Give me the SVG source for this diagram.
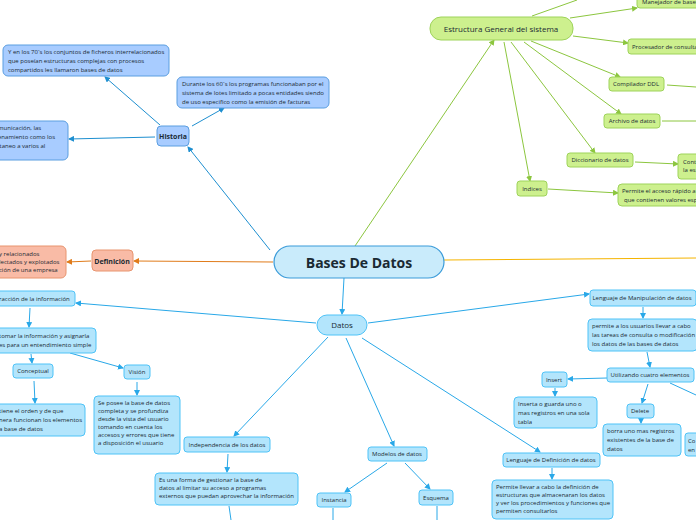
<svg xmlns="http://www.w3.org/2000/svg" width="696" height="520" viewBox="0 0 696 520">
<defs>
<marker id="ab" markerWidth="6" markerHeight="6" refX="5" refY="3" orient="auto" markerUnits="userSpaceOnUse"><path d="M0,0L6,3L0,6z" fill="#1e8fd0"/></marker>
<marker id="ac" markerWidth="6" markerHeight="6" refX="5" refY="3" orient="auto" markerUnits="userSpaceOnUse"><path d="M0,0L6,3L0,6z" fill="#29a8e8"/></marker>
<marker id="ag" markerWidth="6" markerHeight="6" refX="5" refY="3" orient="auto" markerUnits="userSpaceOnUse"><path d="M0,0L6,3L0,6z" fill="#8cc63f"/></marker>
<marker id="ao" markerWidth="6" markerHeight="6" refX="5" refY="3" orient="auto" markerUnits="userSpaceOnUse"><path d="M0,0L6,3L0,6z" fill="#e07b1a"/></marker>
</defs>
<style>
text{font-family:"Open Sans","DejaVu Sans",sans-serif;font-size:6px;fill:#1a2a33}
.h rect{fill:#a8ccff;stroke:#5b9ee0;stroke-width:1}
.c rect{fill:#b3e5fc;stroke:#4fc3f7;stroke-width:1}
.g rect{fill:#cdf08e;stroke:#9ed35a;stroke-width:1}
.o rect{fill:#f9bba6;stroke:#e8946f;stroke-width:1}
.lb{stroke:#1e8fd0;stroke-width:1;fill:none;marker-end:url(#ab)}
.lc{stroke:#29a8e8;stroke-width:1;fill:none;marker-end:url(#ac)}
.lg{stroke:#8cc63f;stroke-width:1;fill:none;marker-end:url(#ag)}
.lo{stroke:#e07b1a;stroke-width:1;fill:none;marker-end:url(#ao)}
.n{stroke:#29a8e8;stroke-width:1;fill:none}
.ng{stroke:#8cc63f;stroke-width:1;fill:none}
</style>
<g id="connectors">
<line class="lb" x1="270" y1="250" x2="188" y2="147"/>
<line class="lb" x1="192" y1="126" x2="224" y2="108"/>
<line class="lb" x1="160" y1="125" x2="105" y2="77"/>
<line class="lb" x1="155" y1="137" x2="69" y2="139"/>
<line class="lo" x1="273" y1="262" x2="134" y2="261"/>
<line class="lo" x1="91" y1="261" x2="67" y2="262"/>
<line x1="444" y1="260" x2="696" y2="258" stroke="#f5b400" stroke-width="1.2"/>
<line class="lg" x1="355" y1="246" x2="494" y2="40"/>
<line class="ng" x1="532" y1="16" x2="577" y2="0"/>
<line class="lg" x1="570" y1="18" x2="637" y2="8"/>
<line class="lg" x1="573" y1="36" x2="628" y2="43"/>
<line class="lg" x1="531" y1="41" x2="620" y2="77"/>
<line class="ng" x1="667" y1="85" x2="696" y2="87"/>
<line class="lg" x1="524" y1="42" x2="621" y2="114"/>
<line class="ng" x1="662" y1="121" x2="696" y2="121"/>
<line class="lg" x1="511" y1="42" x2="595" y2="153"/>
<line class="lg" x1="635" y1="162" x2="678" y2="164"/>
<line class="lg" x1="504" y1="42" x2="530" y2="181"/>
<line class="lg" x1="548" y1="189" x2="618" y2="193"/>
<line class="lc" x1="344" y1="278" x2="342" y2="314"/>
<line class="lc" x1="316" y1="323" x2="76" y2="303"/>
<line class="lc" x1="30" y1="308" x2="29" y2="327"/>
<line class="lc" x1="31" y1="354" x2="32" y2="363"/>
<line class="lc" x1="34" y1="381" x2="35" y2="403"/>
<line class="lc" x1="70" y1="353" x2="123" y2="368"/>
<line class="lc" x1="137" y1="382" x2="137" y2="395"/>
<line class="lc" x1="328" y1="337" x2="234" y2="436"/>
<line class="lc" x1="228" y1="454" x2="227" y2="472"/>
<line class="n" x1="229" y1="506" x2="231" y2="520"/>
<line class="lc" x1="346" y1="338" x2="394" y2="446"/>
<line class="lc" x1="387" y1="463" x2="345" y2="492"/>
<line class="lc" x1="405" y1="463" x2="430" y2="489"/>
<line class="n" x1="333" y1="508" x2="333" y2="520"/>
<line class="n" x1="437" y1="506" x2="437" y2="520"/>
<line class="lc" x1="362" y1="338" x2="540" y2="452"/>
<line class="lc" x1="552" y1="468" x2="552" y2="479"/>
<line class="lc" x1="368" y1="323" x2="589" y2="294"/>
<line class="lc" x1="643" y1="307" x2="643" y2="318"/>
<line class="lc" x1="647" y1="352" x2="650" y2="367"/>
<line class="lc" x1="607" y1="378" x2="568" y2="379"/>
<line class="lc" x1="555" y1="388" x2="555" y2="396"/>
<line class="lc" x1="648" y1="384" x2="642" y2="403"/>
<line class="lc" x1="641" y1="419" x2="641" y2="423"/>
<line class="n" x1="670" y1="383" x2="696" y2="395"/>
</g>
<g id="central"><rect x="274" y="246" width="170" height="32" rx="16" fill="#c9ebfb" stroke="#3a9bd9" stroke-width="1.2"/><text x="359" y="268" text-anchor="middle" style="font-size:14px;font-weight:bold">Bases De Datos</text></g>
<g id="historia" class="h"><rect x="157" y="126" width="32" height="20" rx="4"/><text x="173" y="139" text-anchor="middle" style="font-size:7px;font-weight:bold">Historia</text></g>
<g id="h60" class="h"><rect x="177" y="77" width="152" height="31" rx="5"/><text x="182" y="86">Durante los 60´s los programas funcionaban por el</text><text x="182" y="95">sistema de lotes limitado a pocas entidades siendo</text><text x="182" y="104">de uso especifico como la emisión de facturas</text></g>
<g id="h70" class="h"><rect x="3" y="45" width="166" height="31" rx="5"/><text x="8" y="54">Y en los 70´s los conjuntos de ficheros interrelacionados</text><text x="8" y="63">que poseían estructuras complejas con procesos</text><text x="8" y="72">compartidos les llamaron bases de datos</text></g>
<g id="hleft" class="h"><rect x="-10" y="121" width="78" height="39" rx="5"/><text x="-2" y="130">municación, las</text><text x="-2" y="139">enamiento como los</text><text x="-2" y="148">ltaneo a varios al</text></g>
<g id="definicion" class="o"><rect x="92" y="250" width="41" height="21" rx="4"/><text x="112" y="264" text-anchor="middle" style="font-size:7px;font-weight:bold">Definición</text></g>
<g id="defleft" class="o"><rect x="-10" y="246" width="76" height="32" rx="5"/><text x="-1" y="256">y relacionados</text><text x="-1" y="264">lectados y explotados</text><text x="-1" y="272">ción de una empresa</text></g>
<g id="estructura" class="g"><rect x="430" y="17" width="143" height="23" rx="11"/><text x="501" y="32" text-anchor="middle" style="font-size:8px">Estructura General del sistema</text></g>
<g id="manejador" class="g"><rect x="637" y="-5" width="70" height="13" rx="3"/><text x="642" y="4">Manejador de bases</text></g>
<g id="procesador" class="g"><rect x="628" y="39" width="80" height="15" rx="3"/><text x="632" y="49">Procesador de consultas</text></g>
<g id="compilador" class="g"><rect x="609" y="77" width="55" height="14" rx="3"/><text x="636" y="86" text-anchor="middle">Compilador DDL</text></g>
<g id="archivo" class="g"><rect x="604" y="114" width="56" height="14" rx="3"/><text x="632" y="123" text-anchor="middle">Archivo de datos</text></g>
<g id="diccionario" class="g"><rect x="567" y="153" width="66" height="14" rx="3"/><text x="600" y="162" text-anchor="middle">Diccionario de datos</text></g>
<g id="cont" class="g"><rect x="678" y="154" width="30" height="25" rx="3"/><text x="683" y="164">Cont</text><text x="683" y="172">la es</text></g>
<g id="indices" class="g"><rect x="517" y="181" width="30" height="15" rx="3"/><text x="532" y="191" text-anchor="middle">Indices</text></g>
<g id="permiteacc" class="g"><rect x="618" y="184" width="90" height="22" rx="4"/><text x="622" y="193">Permite el acceso rápido a</text><text x="624" y="202">que contienen valores esp</text></g>
<g id="datos" class="c"><rect x="317" y="315" width="50" height="20" rx="10"/><text x="342" y="328" text-anchor="middle" style="font-size:8px">Datos</text></g>
<g id="abstraccion" class="c"><rect x="-10" y="291" width="85" height="15" rx="3"/><text x="-1" y="301">racción de la información</text></g>
<g id="tomar" class="c"><rect x="-10" y="328" width="106" height="25" rx="4"/><text x="-1" y="338">tomar la información y asignarla</text><text x="-1" y="347">es para un entendimiento simple</text></g>
<g id="conceptual" class="c"><rect x="13" y="364" width="40" height="14" rx="3"/><text x="33" y="373" text-anchor="middle">Conceptual</text></g>
<g id="tiene" class="c"><rect x="-10" y="404" width="95" height="32" rx="4"/><text x="-1" y="413">tiene el orden y de que</text><text x="-1" y="422">nera funcionan los elementos</text><text x="-1" y="431">a base de datos</text></g>
<g id="vision" class="c"><rect x="124" y="365" width="26" height="14" rx="3"/><text x="137" y="374" text-anchor="middle">Visión</text></g>
<g id="seposee" class="c"><rect x="94" y="396" width="86" height="58" rx="4"/><text x="98" y="405">Se posee la base de datos</text><text x="98" y="413">completa y se profundiza</text><text x="98" y="421">desde la vista del usuario</text><text x="98" y="429">tomando en cuenta los</text><text x="98" y="437">accesos y errores que tiene</text><text x="98" y="445">a disposición el usuario</text></g>
<g id="independencia" class="c"><rect x="184" y="437" width="86" height="15" rx="3"/><text x="227" y="447" text-anchor="middle">Independencia de los datos</text></g>
<g id="esuna" class="c"><rect x="155" y="473" width="143" height="32" rx="4"/><text x="159" y="482">Es una forma de gestionar la base de</text><text x="159" y="490">datos al limitar su acceso a programas</text><text x="159" y="498">externos que puedan aprovechar la información</text></g>
<g id="modelos" class="c"><rect x="368" y="447" width="59" height="14" rx="3"/><text x="397" y="456" text-anchor="middle">Modelos de datos</text></g>
<g id="instancia" class="c"><rect x="317" y="493" width="34" height="14" rx="3"/><text x="334" y="502" text-anchor="middle">Instancia</text></g>
<g id="esquema" class="c"><rect x="419" y="490" width="34" height="15" rx="3"/><text x="436" y="500" text-anchor="middle">Esquema</text></g>
<g id="ldd" class="c"><rect x="503" y="453" width="97" height="14" rx="3"/><text x="551" y="462" text-anchor="middle">Lenguaje de Definición de datos</text></g>
<g id="permitellevar" class="c"><rect x="492" y="480" width="121" height="39" rx="4"/><text x="496" y="489">Permite llevar a cabo la definición de</text><text x="496" y="497">estructuras que almacenaran los datos</text><text x="496" y="505">y ver los procedimientos y funciones que</text><text x="496" y="513">permiten consultarlos</text></g>
<g id="ldm" class="c"><rect x="590" y="290" width="106" height="16" rx="3"/><text x="642" y="300" text-anchor="middle">Lenguaje de Manipulación de datos</text></g>
<g id="permiteusu" class="c"><rect x="588" y="319" width="109" height="32" rx="4"/><text x="592" y="328">permite a los usuarios llevar a cabo</text><text x="592" y="337">las tareas de consulta o modificación</text><text x="592" y="346">los datos de las bases de datos</text></g>
<g id="utilizando" class="c"><rect x="607" y="368" width="87" height="14" rx="3"/><text x="650" y="377" text-anchor="middle">Utilizando cuatro elementos</text></g>
<g id="insert" class="c"><rect x="542" y="372" width="25" height="15" rx="3"/><text x="554" y="382" text-anchor="middle">Insert</text></g>
<g id="inserta" class="c"><rect x="514" y="397" width="83" height="31" rx="4"/><text x="518" y="406">Inserta o guarda uno o</text><text x="518" y="415">mas registros en una sola</text><text x="518" y="424">tabla</text></g>
<g id="delete" class="c"><rect x="627" y="404" width="27" height="14" rx="3"/><text x="640" y="413" text-anchor="middle">Delete</text></g>
<g id="borra" class="c"><rect x="603" y="424" width="78" height="32" rx="4"/><text x="607" y="433">borra uno mas registros</text><text x="607" y="442">existentes de la base de</text><text x="607" y="451">datos</text></g>
<g id="coen" class="c"><rect x="685" y="433" width="20" height="23" rx="3"/><text x="688" y="443">Co</text><text x="688" y="452">en</text></g>
</svg>
